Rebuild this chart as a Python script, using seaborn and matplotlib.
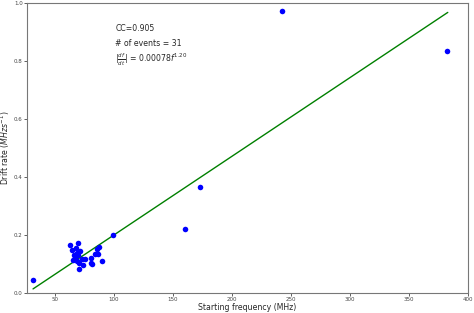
import seaborn as sns
import matplotlib.pyplot as plt
import pandas as pd

# starting frequency (MHz) and drift rate (MHz/s) per event
freq = [31.7, 98.9, 160.4, 173.3, 242.2, 382.2,
        62.6, 69.7, 64.9, 67.7, 71.7, 65.0, 66.7, 67.7, 69.7, 69.1,
        70.2, 70.8, 73.4, 75.9, 73.6, 80.4, 80.6, 81.8, 84.0, 85.4,
        87.4, 86.3, 89.6, 66.2, 69.0]
drift = [0.045, 0.201, 0.222, 0.364, 0.972, 0.834,
         0.164, 0.171, 0.149, 0.156, 0.145, 0.114, 0.120, 0.128, 0.130, 0.110,
         0.102, 0.084, 0.118, 0.118, 0.098, 0.120, 0.105, 0.100, 0.134, 0.152,
         0.160, 0.133, 0.111, 0.131, 0.137]

# fitted line end points
fit_freq = [31.5, 383.0]
fit_drift = [0.014, 0.968]

df = pd.DataFrame({'freq': freq, 'drift': drift})
fit = pd.DataFrame({'freq': fit_freq, 'drift': fit_drift})

sns.set_style('ticks')
plt.rcParams['font.family'] = ['DejaVu Sans']

fig, ax = plt.subplots(figsize=(4.74, 3.13), dpi=100)
fig.subplots_adjust(left=0.057, right=0.987, bottom=0.064, top=0.99)

sns.lineplot(data=fit, x='freq', y='drift', color='green', linewidth=1, ax=ax)
sns.scatterplot(data=df, x='freq', y='drift', color='blue', s=16, edgecolor='blue',
                linewidth=0, ax=ax, zorder=3)

ax.set_xlim(26.4, 400)
ax.set_ylim(0, 1.0)
ax.set_xticks([50, 100, 150, 200, 250, 300, 350, 400])
ax.set_yticks([0.0, 0.2, 0.4, 0.6, 0.8, 1.0])
ax.tick_params(labelsize=4, colors='#444444', length=2, width=0.6, pad=1)
for s in ax.spines.values():
    s.set_color('#777777')
    s.set_linewidth(0.8)

ax.set_xlabel('Starting frequency (MHz)', fontsize=5.6)
ax.set_ylabel('Drift rate ($MHzs^{-1}$)', fontsize=5.6)
ax.xaxis.set_label_coords(0.5, -0.034)
ax.yaxis.set_label_coords(-0.034, 0.5)

ax.text(0.2, 0.905, 'CC=0.905', transform=ax.transAxes, fontsize=5.6)
ax.text(0.2, 0.853, '# of events = 31', transform=ax.transAxes, fontsize=5.6)
ax.text(0.2, 0.797, r'$|\frac{df}{dt}|$ = 0.00078$f^{1.20}$', transform=ax.transAxes, fontsize=5.6)

plt.savefig('out.png', dpi=100)
